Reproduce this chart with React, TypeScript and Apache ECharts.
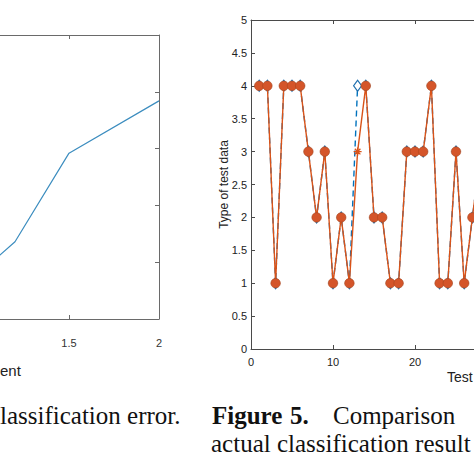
import React, { useEffect, useRef } from "react";
import * as echarts from "echarts";

// Left (cropped) figure: classification error curve
const leftX = [1.1, 1.2, 1.5, 2.0];
const leftY = [0.108, 0.136, 0.292, 0.384];
const leftXTicks = [1, 1.5, 2];

// Right figure: comparison of actual vs predicted classification
const testIndex = [1, 2, 3, 4, 5, 6, 7, 8, 9, 10, 11, 12, 13, 14, 15, 16, 17, 18, 19, 20, 21, 22, 23, 24, 25, 26, 27, 28];
const actualType = [4, 4, 1, 4, 4, 4, 3, 2, 3, 1, 2, 1, 4, 4, 2, 2, 1, 1, 3, 3, 3, 4, 1, 1, 3, 1, 2, 3];
const predictedType = [4, 4, 1, 4, 4, 4, 3, 2, 3, 1, 2, 1, 3, 4, 2, 2, 1, 1, 3, 3, 3, 4, 1, 1, 3, 1, 2, 3];
const xTicks = [0, 10, 20, 30];
const yTicks = [0, 0.5, 1, 1.5, 2, 2.5, 3, 3.5, 4, 4.5, 5];

const SANS = 'Arial, "Liberation Sans", sans-serif';
const SERIF = '"Times New Roman", "Liberation Serif", serif';
const ASTERISK = "path://M5,0L5,10M0,5L10,5M1.5,1.5L8.5,8.5M1.5,8.5L8.5,1.5";

export default function App() {
  const ref = useRef<HTMLDivElement>(null);
  useEffect(() => {
    if (!ref.current) return;
    const chart = echarts.init(ref.current, undefined, { renderer: "svg" });
    const axisCommon = (color: string) => ({
      axisLine: { show: true, onZero: false, lineStyle: { color, width: 1 } },
      axisTick: { show: true, inside: true, length: 4, lineStyle: { color } },
      splitLine: { show: false },
    });
    const leftColor = "#6a6a6a";
    const rightColor = "#4a4a4a";
    const option: any = {
      animation: false,
      backgroundColor: "#ffffff",
      grid: [
        { left: -21, right: 315, top: 35, bottom: 155, outerBoundsMode: "none", containLabel: false },
        { left: 251, right: -23, top: 20, bottom: 125, outerBoundsMode: "none", containLabel: false },
      ],
      xAxis: [
        {
          gridIndex: 0, type: "value", position: "bottom",
          min: leftXTicks[0], max: leftXTicks[leftXTicks.length - 1], interval: 0.5,
          ...axisCommon(leftColor),
          axisLabel: { show: true, showMinLabel: false, margin: 18, fontSize: 11, color: "#333", fontFamily: SANS },
        },
        {
          gridIndex: 0, type: "value", position: "top",
          min: leftXTicks[0], max: leftXTicks[leftXTicks.length - 1], interval: 0.5,
          ...axisCommon(leftColor), axisLabel: { show: false },
        },
        {
          gridIndex: 1, type: "value", position: "bottom",
          min: xTicks[0], max: xTicks[xTicks.length - 1], interval: 10,
          ...axisCommon(rightColor),
          axisLabel: { show: true, showMaxLabel: false, margin: 7, fontSize: 11, color: "#222", fontFamily: SANS },
        },
        {
          gridIndex: 1, type: "value", position: "top",
          min: xTicks[0], max: xTicks[xTicks.length - 1], interval: 10,
          ...axisCommon(rightColor), axisLabel: { show: false },
        },
      ],
      yAxis: [
        {
          gridIndex: 0, type: "value", position: "left", min: 0, max: 0.5, interval: 0.1,
          ...axisCommon(leftColor), axisLabel: { show: false },
        },
        {
          gridIndex: 0, type: "value", position: "right", min: 0, max: 0.5, interval: 0.1,
          ...axisCommon(leftColor), axisLabel: { show: false },
        },
        {
          gridIndex: 1, type: "value", position: "left",
          min: yTicks[0], max: yTicks[yTicks.length - 1], interval: 0.5,
          ...axisCommon(rightColor),
          axisLabel: { show: true, margin: 4, fontSize: 11, color: "#222", fontFamily: SANS },
          name: "Type of test data", nameLocation: "middle", nameGap: 21, nameMoveOverlap: false,
          nameTextStyle: { fontSize: 12, color: "#222", fontFamily: SANS },
        },
        {
          gridIndex: 1, type: "value", position: "right", min: 0, max: 5, interval: 0.5,
          ...axisCommon(rightColor), axisLabel: { show: false },
        },
      ],
      series: [
        {
          type: "line", xAxisIndex: 0, yAxisIndex: 0,
          data: leftX.map((x, i) => [x, leftY[i]]),
          symbol: "none",
          lineStyle: { color: "#3c8dbf", width: 1.2 },
        },
        {
          type: "line", xAxisIndex: 2, yAxisIndex: 2, name: "Actual",
          data: testIndex.map((x, i) => [x, actualType[i]]),
          symbol: "diamond", symbolSize: [8, 11], showSymbol: true,
          lineStyle: { color: "#0072BD", width: 1.4, type: [6, 4] },
          itemStyle: { color: "#ffffff", borderColor: "#1f6fae", borderWidth: 1.2 },
          z: 2,
        },
        {
          type: "line", xAxisIndex: 2, yAxisIndex: 2, name: "Predicted",
          data: testIndex.map((x, i) => {
            const v: any = { value: [x, predictedType[i]] };
            if (predictedType[i] !== actualType[i]) {
              v.symbol = ASTERISK;
              v.symbolSize = 8;
              v.itemStyle = { color: "transparent", borderColor: "#D95319", borderWidth: 1.3 };
            }
            return v;
          }),
          symbol: "circle", symbolSize: 9.5, showSymbol: true,
          lineStyle: { color: "#D95319", width: 1.4 },
          itemStyle: { color: "#D4552A", borderColor: "#a8461f", borderWidth: 0.6 },
          z: 3,
        },
      ],
      graphic: [
        {
          type: "text", x: 0, y: 370,
          style: { text: "ent", align: "left", verticalAlign: "middle", fontSize: 15, fontFamily: SANS, fill: "#222" },
        },
        {
          type: "text", x: 447, y: 377,
          style: { text: "Test", align: "left", verticalAlign: "middle", fontSize: 14, fontFamily: SANS, fill: "#222" },
        },
        {
          type: "text", x: 0, y: 415,
          style: { text: "lassification error.", align: "left", verticalAlign: "middle", fontSize: 25, fontFamily: SERIF, fill: "#111" },
        },
        {
          type: "text", x: 212, y: 415,
          style: { text: "Figure", align: "left", verticalAlign: "middle", fontSize: 25, fontWeight: "bold", fontFamily: SERIF, fill: "#111" },
        },
        {
          type: "text", x: 290, y: 415,
          style: { text: "5.", align: "left", verticalAlign: "middle", fontSize: 25, fontWeight: "bold", fontFamily: SERIF, fill: "#111" },
        },
        {
          type: "text", x: 333, y: 415,
          style: { text: "Comparison", align: "left", verticalAlign: "middle", fontSize: 25, fontFamily: SERIF, fill: "#111" },
        },
        {
          type: "text", x: 211, y: 443,
          style: { text: "actual classification result", align: "left", verticalAlign: "middle", fontSize: 25, fontFamily: SERIF, fill: "#111" },
        },
      ],
    };
    chart.setOption(option);
    return () => chart.dispose();
  }, []);
  return (
    <div
      ref={ref}
      style={{ position: "fixed", left: 0, top: 0, width: 474, height: 474, background: "#fff" }}
    />
  );
}
